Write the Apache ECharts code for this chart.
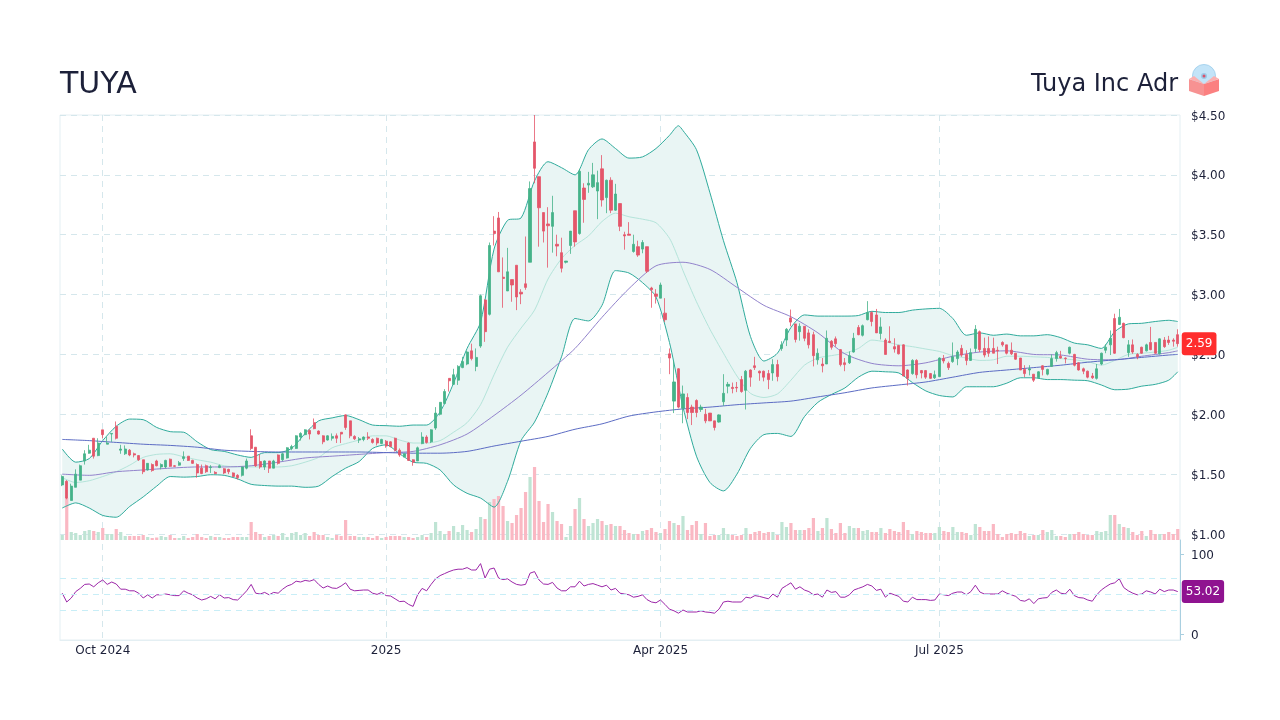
<!DOCTYPE html>
<html>
<head>
<meta charset="utf-8">
<title>TUYA</title>
<script src="https://cdn.jsdelivr.net/npm/echarts@6/dist/echarts.min.js"></script>
<style>
  html, body { margin: 0; padding: 0; background: #fff; }
  #chart { width: 1280px; height: 720px; }
</style>
</head>
<body>
<div id="chart"></div>
<script>
// values, one entry per trading day
const opens = [
  1.41,1.44,1.28,1.39,1.45,1.61,1.675,1.80,1.655,1.87,
  1.75,1.835,1.90,1.70,1.67,1.70,1.67,1.655,1.62,1.535,
  1.58,1.61,1.56,1.56,1.625,1.57,1.575,1.63,1.65,1.615,
  1.58,1.55,1.57,1.555,1.515,1.555,1.545,1.54,1.51,1.49,
  1.49,1.55,1.82,1.725,1.605,1.56,1.61,1.55,1.66,1.62,
  1.635,1.715,1.715,1.81,1.83,1.865,1.93,1.86,1.82,1.785,
  1.80,1.82,1.85,1.995,1.945,1.815,1.785,1.79,1.81,1.79,
  1.80,1.755,1.775,1.77,1.80,1.70,1.645,1.76,1.62,1.61,
  1.755,1.81,1.77,1.885,2.0,2.09,2.30,2.25,2.285,2.39,
  2.42,2.53,2.40,2.57,2.955,2.835,3.53,3.64,3.145,3.03,
  3.125,3.245,3.02,3.09,3.27,4.275,3.985,3.685,3.59,3.57,
  3.42,3.35,3.27,3.41,3.70,3.51,3.89,3.915,3.90,3.865,
  4.05,3.81,3.955,3.705,3.76,3.50,3.505,3.36,3.40,3.38,
  3.40,3.055,3.005,2.97,2.845,2.505,2.11,2.38,2.05,2.14,
  2.06,2.115,2.04,2.0,2.01,1.945,1.935,2.105,2.235,2.225,
  2.225,2.29,2.2,2.37,2.405,2.36,2.36,2.34,2.345,2.415,
  2.55,2.62,2.805,2.755,2.69,2.735,2.68,2.665,2.455,2.42,
  2.42,2.61,2.63,2.54,2.43,2.43,2.52,2.725,2.66,2.79,
  2.85,2.83,2.675,2.62,2.61,2.565,2.575,2.58,2.37,2.34,
  2.45,2.365,2.365,2.34,2.305,2.315,2.465,2.425,2.44,2.465,
  2.55,2.50,2.45,2.55,2.69,2.55,2.55,2.55,2.535,2.60,
  2.58,2.535,2.51,2.47,2.375,2.37,2.335,2.305,2.405,2.335,
  2.40,2.465,2.485,2.47,2.51,2.50,2.43,2.38,2.36,2.32,
  2.30,2.42,2.535,2.58,2.80,2.75,2.76,2.515,2.58,2.50,
  2.56,2.53,2.60,2.60,2.505,2.62,2.62,2.62,2.665
];
const closes = [
  1.48,1.30,1.40,1.50,1.57,1.67,1.70,1.65,1.76,1.83,
  1.76,1.84,1.80,1.71,1.71,1.66,1.66,1.62,1.52,1.59,
  1.53,1.57,1.58,1.615,1.565,1.565,1.595,1.645,1.615,1.59,
  1.51,1.505,1.52,1.56,1.505,1.57,1.51,1.52,1.48,1.47,
  1.56,1.61,1.715,1.57,1.56,1.61,1.55,1.61,1.59,1.67,
  1.72,1.73,1.82,1.84,1.87,1.835,1.88,1.835,1.77,1.82,
  1.815,1.80,1.835,1.89,1.82,1.795,1.795,1.81,1.80,1.765,
  1.76,1.79,1.735,1.73,1.70,1.66,1.67,1.615,1.60,1.72,
  1.81,1.765,1.87,2.01,2.10,2.19,2.28,2.33,2.40,2.44,
  2.52,2.465,2.475,2.99,2.69,3.41,3.51,3.19,3.135,3.19,
  3.08,2.98,3.005,3.06,3.885,4.055,3.725,3.53,3.575,3.685,
  3.405,3.22,3.28,3.53,3.44,4.03,3.795,3.93,4.0,3.935,
  3.79,3.955,3.705,3.84,3.57,3.49,3.495,3.42,3.33,3.435,
  3.195,3.04,2.985,3.08,2.79,2.47,2.27,2.06,2.17,2.015,
  2.015,2.015,2.06,1.945,1.945,1.89,1.995,2.175,2.25,2.215,
  2.22,2.19,2.36,2.31,2.39,2.345,2.31,2.29,2.415,2.315,
  2.58,2.71,2.77,2.625,2.735,2.635,2.58,2.49,2.51,2.405,
  2.635,2.56,2.59,2.415,2.415,2.49,2.635,2.665,2.74,2.85,
  2.775,2.68,2.73,2.50,2.60,2.545,2.505,2.32,2.30,2.45,
  2.33,2.345,2.31,2.30,2.33,2.47,2.445,2.39,2.48,2.52,
  2.495,2.45,2.515,2.71,2.54,2.495,2.51,2.51,2.53,2.58,
  2.51,2.505,2.46,2.37,2.34,2.38,2.285,2.355,2.375,2.375,
  2.465,2.515,2.47,2.465,2.56,2.41,2.37,2.36,2.31,2.305,
  2.38,2.51,2.56,2.635,2.51,2.81,2.64,2.58,2.52,2.48,
  2.51,2.58,2.54,2.51,2.63,2.565,2.60,2.61,2.59
];
const highs = [
  1.49,1.45,1.42,1.54,1.58,1.70,1.745,1.80,1.80,1.87,
  1.81,1.84,1.94,1.745,1.74,1.71,1.68,1.66,1.62,1.59,
  1.59,1.62,1.59,1.62,1.63,1.575,1.61,1.69,1.65,1.62,
  1.59,1.58,1.58,1.575,1.525,1.58,1.55,1.545,1.515,1.50,
  1.565,1.63,1.875,1.725,1.665,1.615,1.61,1.62,1.665,1.68,
  1.725,1.745,1.825,1.85,1.875,1.875,1.965,1.865,1.825,1.825,
  1.84,1.84,1.85,2.00,1.945,1.825,1.81,1.815,1.85,1.80,
  1.805,1.795,1.785,1.775,1.805,1.715,1.675,1.765,1.625,1.73,
  1.85,1.825,1.875,2.06,2.10,2.21,2.30,2.38,2.41,2.48,
  2.53,2.59,2.55,3.0,2.96,3.435,3.655,3.69,3.31,3.39,
  3.125,3.245,3.045,3.485,3.945,4.5,3.985,3.685,3.73,3.825,
  3.5,3.475,3.28,3.53,3.70,4.05,3.93,4.025,4.10,4.035,
  4.165,3.96,3.98,3.925,3.76,3.525,3.605,3.5,3.45,3.455,
  3.40,3.065,3.045,3.10,2.97,2.55,2.445,2.385,2.24,2.175,
  2.08,2.125,2.08,2.045,2.01,1.945,2.0,2.335,2.27,2.265,
  2.27,2.32,2.37,2.375,2.48,2.365,2.365,2.37,2.46,2.455,
  2.61,2.72,2.875,2.755,2.76,2.735,2.71,2.69,2.55,2.47,
  2.70,2.62,2.65,2.545,2.47,2.525,2.68,2.745,2.75,2.945,
  2.86,2.88,2.81,2.635,2.735,2.635,2.58,2.585,2.375,2.46,
  2.46,2.37,2.37,2.345,2.365,2.475,2.495,2.44,2.60,2.535,
  2.58,2.535,2.55,2.745,2.70,2.64,2.65,2.64,2.565,2.61,
  2.58,2.60,2.51,2.47,2.41,2.41,2.335,2.36,2.41,2.38,
  2.50,2.53,2.53,2.475,2.565,2.505,2.435,2.39,2.365,2.345,
  2.42,2.515,2.585,2.70,2.84,2.88,2.765,2.62,2.625,2.51,
  2.565,2.59,2.73,2.60,2.635,2.645,2.655,2.635,2.71
];
const lows = [
  1.40,1.29,1.28,1.39,1.45,1.58,1.67,1.63,1.65,1.80,
  1.75,1.77,1.79,1.67,1.66,1.65,1.64,1.61,1.50,1.53,
  1.52,1.565,1.54,1.55,1.56,1.56,1.57,1.61,1.61,1.585,
  1.47,1.50,1.51,1.51,1.50,1.55,1.50,1.50,1.475,1.455,
  1.48,1.54,1.70,1.56,1.545,1.535,1.51,1.55,1.58,1.61,
  1.63,1.70,1.71,1.78,1.825,1.79,1.875,1.83,1.75,1.78,
  1.78,1.76,1.76,1.87,1.80,1.785,1.76,1.775,1.785,1.755,
  1.74,1.75,1.72,1.725,1.69,1.645,1.64,1.61,1.57,1.61,
  1.75,1.755,1.76,1.87,1.99,2.085,2.19,2.245,2.245,2.385,
  2.41,2.45,2.36,2.555,2.605,2.825,3.41,3.19,2.89,3.03,
  2.94,2.87,2.92,3.04,3.27,3.93,3.40,3.435,3.225,3.35,
  3.32,3.185,3.26,3.34,3.40,3.50,3.60,3.85,3.89,3.63,
  3.735,3.68,3.68,3.70,3.53,3.375,3.495,3.35,3.315,3.345,
  3.18,2.89,2.925,2.97,2.77,2.335,2.01,2.05,1.925,1.96,
  1.91,1.975,2.02,1.925,1.945,1.865,1.93,2.07,2.175,2.175,
  2.185,2.18,2.04,2.23,2.37,2.28,2.275,2.21,2.28,2.275,
  2.53,2.57,2.735,2.60,2.615,2.61,2.55,2.40,2.415,2.35,
  2.42,2.54,2.565,2.40,2.36,2.42,2.515,2.66,2.65,2.785,
  2.735,2.68,2.625,2.50,2.595,2.515,2.50,2.32,2.24,2.33,
  2.30,2.30,2.295,2.295,2.295,2.31,2.425,2.37,2.43,2.41,
  2.48,2.41,2.445,2.52,2.52,2.475,2.48,2.51,2.42,2.565,
  2.50,2.495,2.455,2.37,2.31,2.325,2.27,2.30,2.325,2.325,
  2.395,2.44,2.465,2.425,2.50,2.40,2.365,2.335,2.30,2.295,
  2.29,2.41,2.51,2.495,2.505,2.745,2.635,2.48,2.505,2.46,
  2.505,2.525,2.535,2.505,2.50,2.555,2.58,2.565,2.565
];
const volumes = [
  5,42,8,7,5,9,10,9,8,12,
  6,6,11,8,4,4,4,4,5,3,
  2,2.5,4,3,5,2,2,4,2,3,
  6,3,2,4,3,3,2,2,3,3,
  3,3,18,8,6,3,4,5,4,7,
  3,7,8,5,7,4,8,5,5,3,
  2,5,4,20,4,4,3,3,3,2,
  4,2,3,4,4,4,3,3,2,3,
  5,3,7,18,9,6,9,14,8,15,
  10,8,11,23,21,38,41,44,34,19,
  17,25,32,48,63,73,39,18,36,28,
  19,16,3,14,31,42,21,14,17,21,
  19,15,16,14,14,10,7,6,6,9,
  10,12,8,7,11,19,17,15,24,10,
  15,19,6,17,4,5,5,12,6,5,
  4,5,12,6,8,9,7,8,8,5,
  18,13,17,10,10,10,12,22,9,12,
  22,11,7,17,7,14,12,12,9,10,
  8,8,12,7,11,9,8,18,10,6,
  9,8,7,7,7,13,9,8,13,8,
  8,7,5,16,13,9,9,16,6,3,
  6,7,6,9,7,4,5,5,10,8,
  10,4,4,3,6,6,8,6,5,5,
  9,8,9,25,25,16,13,12,8,5,
  9,4,10,6,6,6,8,6,11
];
const rsiValues = [
  51,40,45,53,57,62,62.5,59,64,67.5,
  62,65,62.5,56,56,54,54,51,45,49,
  45,49,49,50,49,48,48,54,51,49,
  45,42.5,44,47,44,49,45,45.5,43,42.5,
  48,54,62,51,50,52,49,52,51,56,
  60,62,66,65,67,66,68,62,57.5,60,
  57.5,57,60,64,56,54,54.5,55,55,51,
  49.5,52,48,47.5,44,40.5,41,37,34.5,49,
  57,54,62,69,73,75.5,78,80,81,81,
  83,80,80,88,70,81,82.5,70,68,69,
  65,62,61,62,76,78,67.5,62.5,62,64.5,
  57.5,54,54,59,59,66,60,62,63,61,
  59,61,55,57,51,50,49,46,47,49,
  43,40,39,42.5,37,31,29,26,30,27.5,
  27.5,27.5,29,27.5,27,26,31,40,41,40,
  40,40,46,45,48,47,45.5,44,50,46,
  57,60.5,64,56,59,55,53,49,50,46,
  55,52,53,46,46,49,55,57,59,62,
  60,54.5,56,46,51,49,47,41,40,46,
  43,43,43,42,42.5,50,49,48,51,52.5,
  52.5,49,53,61,52.5,50,50,50,50,54,
  51,49,47,42,41,44,38,44,45,45.5,
  52,55,51,50,56,48,45.5,45,42.5,41,
  49,55,59,62.5,64,69,58,54,51,49,
  50,54,52.5,50,56,53,55,55,53.02
];

// band and average lines, read every few days
const bandIdx = [
  0,3,6,9,12,15,18,21,24,27,
  30,33,36,39,42,45,48,51,54,57,
  60,63,66,69,72,75,78,81,84,87,
  90,93,96,99,102,105,108,111,114,117,
  120,123,126,129,132,135,137,138,141,144,147,
  150,153,156,159,162,165,168,171,174,177,
  180,183,186,189,192,195,198,201,204,207,
  210,213,216,219,222,225,228,231,234,237,
  240,243,246,248
];
const bandUpper = [
  1.71,1.60,1.63,1.78,1.90,1.96,1.955,1.89,1.855,1.85,
  1.77,1.705,1.69,1.66,1.64,1.68,1.68,1.715,1.84,1.945,
  1.97,1.99,1.955,1.91,1.905,1.90,1.91,1.91,2.02,2.26,
  2.55,2.77,3.38,3.62,3.64,3.95,4.11,4.06,4.0,4.21,
  4.30,4.22,4.14,4.15,4.22,4.33,4.41,4.37,4.21,3.85,3.45,
  3.10,2.65,2.445,2.51,2.725,2.83,2.82,2.82,2.82,2.825,
  2.86,2.85,2.85,2.87,2.88,2.885,2.80,2.66,2.68,2.66,
  2.67,2.655,2.655,2.665,2.64,2.595,2.58,2.55,2.69,2.755,
  2.76,2.775,2.785,2.775
];
const bandMiddle = [
  1.47,1.43,1.445,1.48,1.52,1.575,1.64,1.665,1.67,1.645,
  1.62,1.60,1.57,1.56,1.56,1.56,1.56,1.57,1.60,1.64,
  1.72,1.755,1.785,1.82,1.82,1.785,1.76,1.76,1.78,1.85,
  1.93,2.08,2.33,2.56,2.72,2.87,3.13,3.30,3.41,3.49,
  3.61,3.68,3.65,3.63,3.60,3.47,3.30,3.20,2.94,2.71,2.51,
  2.32,2.175,2.14,2.17,2.285,2.41,2.47,2.49,2.51,2.55,
  2.62,2.605,2.58,2.565,2.545,2.525,2.49,2.47,2.45,2.455,
  2.485,2.485,2.48,2.475,2.465,2.455,2.44,2.41,2.45,2.50,
  2.51,2.52,2.535,2.56
];
const bandLower = [
  1.217,1.26,1.217,1.155,1.14,1.23,1.31,1.40,1.48,1.475,
  1.48,1.495,1.49,1.46,1.415,1.405,1.40,1.40,1.39,1.40,
  1.48,1.55,1.605,1.715,1.745,1.67,1.60,1.59,1.535,1.41,
  1.34,1.30,1.225,1.44,1.78,1.935,2.18,2.48,2.80,2.78,
  2.91,3.20,3.18,3.10,2.98,2.60,2.24,2.06,1.65,1.43,1.36,
  1.50,1.715,1.83,1.84,1.815,1.98,2.10,2.165,2.22,2.31,
  2.36,2.355,2.345,2.265,2.195,2.157,2.145,2.23,2.23,2.23,
  2.26,2.305,2.305,2.29,2.29,2.285,2.28,2.245,2.205,2.21,
  2.235,2.25,2.285,2.355
];
const smaIdx = [
  0,6,12,18,24,30,36,42,48,54,60,66,72,78,84,90,96,102,108,114,
  120,126,132,138,144,150,156,162,168,174,180,186,192,198,204,210,
  216,222,228,234,240,246,248
];
const sma50 = [
  1.50,1.49,1.52,1.535,1.55,1.56,1.56,1.57,1.60,1.635,1.65,1.665,1.68,1.69,1.745,1.835,1.99,2.16,2.35,2.55,
  2.81,3.05,3.24,3.27,3.21,3.06,2.91,2.815,2.68,2.505,2.425,2.405,2.43,2.485,2.52,2.53,
  2.50,2.495,2.46,2.455,2.485,2.515,2.53
];
const sma200 = [
  1.79,1.78,1.765,1.75,1.74,1.725,1.70,1.69,1.685,1.685,1.685,1.685,1.68,1.675,1.675,1.69,1.735,1.775,1.815,1.875,
  1.92,1.985,2.02,2.045,2.06,2.08,2.095,2.11,2.145,2.18,2.22,2.245,2.27,2.31,2.35,2.37,
  2.39,2.41,2.435,2.455,2.475,2.495,2.50
];

const tickIdx = [9, 72, 133, 195];
const tickLabels = ['Oct 2024', '2025', 'Apr 2025', 'Jul 2025'];
const rsiLevels = [30, 50, 70];
const lastPrice = 2.59;
const lastRsi = 53.02;

const INK = '#1c2039';
const RED = '#e4566a';
const GREEN = '#45b389';
const FONT = '"DejaVu Sans", sans-serif';

const bars = opens.map((_, i) => i);
const candles = opens.map((o, i) => [o, closes[i], lows[i], highs[i]]);
const xLabels = bars.map(i => {
  const t = tickIdx.indexOf(i);
  return t < 0 ? '' : tickLabels[t];
});
const pairs = (idx, vals) => idx.map((x, k) => [x, vals[k]]);
const lastBar = bars.length - 1;

function lineSeries(name, idx, vals, color, width, z) {
  return {
    name, type: 'line', xAxisIndex: 0, yAxisIndex: 0, z,
    data: pairs(idx, vals),
    showSymbol: false, symbol: 'none', silent: true, smooth: 0.25,
    lineStyle: { color, width }
  };
}

function tag(xAxisIndex, yAxisIndex, value, color) {
  return {
    type: 'line', xAxisIndex, yAxisIndex, z: 10,
    data: [[lastBar, value]],
    symbol: 'circle', symbolSize: 0, showSymbol: true, silent: true,
    lineStyle: { opacity: 0 },
    label: {
      show: true, position: 'right', distance: 4,
      formatter: String(value),
      color: '#fff', fontFamily: FONT, fontSize: 12,
      backgroundColor: color, borderRadius: 3, padding: [6, 4, 5, 4]
    }
  };
}

// nudges the axis text down so it sits on its gridline
const axisRich = { a: { color: INK, fontSize: 12, fontFamily: FONT, padding: [3, 0, 0, 0] } };

const option = {
  animation: false,
  backgroundColor: '#fff',
  textStyle: { fontFamily: FONT },
  title: [
    { text: 'TUYA', left: 55, top: 65, textStyle: { color: INK, fontSize: 30, fontWeight: 'normal', fontFamily: FONT } },
    { text: 'Tuya Inc Adr', right: 97, top: 68, textStyle: { color: INK, fontSize: 24, fontWeight: 'normal', fontFamily: FONT } }
  ],
  grid: [
    { left: 60, top: 115, width: 1120, height: 419 },   // price
    { left: 60, top: 460, width: 1120, height: 80 },    // volume
    { left: 60, top: 540, width: 1120, height: 100 },   // rsi
    { left: 60, top: 115, width: 1120, height: 525, show: true, borderColor: '#e4eff3', borderWidth: 1, backgroundColor: 'transparent' }  // frame
  ],
  xAxis: [
    { type: 'category', gridIndex: 0, data: bars, show: false },
    { type: 'category', gridIndex: 1, data: bars, show: false },
    { type: 'category', gridIndex: 2, data: bars, show: false },
    {
      type: 'category', gridIndex: 3, data: xLabels,
      axisLine: { lineStyle: { color: '#e4eff3' } },
      axisTick: { show: false },
      axisLabel: { interval: 0, color: INK, fontSize: 12, margin: 5, hideOverlap: false },
      splitLine: {
        show: true, alignWithLabel: true,
        interval: i => tickIdx.includes(i),
        lineStyle: { color: '#d5e7ec', type: [6, 5], width: 1 }
      }
    }
  ],
  yAxis: [
    {
      type: 'value', gridIndex: 0, position: 'right', min: 1, max: 4.5, interval: 0.5,
      axisLine: { show: false }, axisTick: { show: false },
      axisLabel: { margin: 11, rich: axisRich, formatter: v => '{a|$' + v.toFixed(2) + '}' },
      splitLine: { lineStyle: { color: '#d5e7ec', type: [6, 5] } }
    },
    { type: 'value', gridIndex: 1, min: 0, max: 80, show: false },
    {
      type: 'value', gridIndex: 2, position: 'right', min: -7.5, max: 117.5,
      axisLine: { show: true, lineStyle: { color: '#a9cfe0' } },
      axisTick: { show: true, length: 4, customValues: [0, 100], lineStyle: { color: '#a9cfe0' } },
      axisLabel: { margin: 11, customValues: [0, 100], rich: axisRich, formatter: v => '{a|' + v + '}' },
      splitLine: { show: false }
    },
    { type: 'value', gridIndex: 3, show: false }
  ],
  series: [
    // band fill: lower edge with the width stacked on top
    {
      type: 'line', stack: 'band', z: 1, silent: true, symbol: 'none', smooth: 0.25,
      data: pairs(bandIdx, bandLower), lineStyle: { opacity: 0 }
    },
    {
      type: 'line', stack: 'band', z: 1, silent: true, symbol: 'none', smooth: 0.25,
      data: pairs(bandIdx, bandUpper.map((u, k) => u - bandLower[k])),
      lineStyle: { opacity: 0 }, areaStyle: { color: '#e9f5f4', opacity: 1 }
    },
    {
      type: 'bar', xAxisIndex: 1, yAxisIndex: 1, z: 2, barWidth: 3.2, silent: true,
      data: volumes.map((v, i) => ({
        value: v,
        itemStyle: { color: closes[i] >= opens[i] ? '#bfe4d4' : '#fab8c3' }
      }))
    },
    lineSeries('upper', bandIdx, bandUpper, '#2fab9c', 1, 3),
    lineSeries('lower', bandIdx, bandLower, '#2fab9c', 1, 3),
    lineSeries('middle', bandIdx, bandMiddle, '#b4e4da', 1, 3),
    lineSeries('sma50', smaIdx, sma50, '#9283cc', 1, 3),
    lineSeries('sma200', smaIdx, sma200, '#5c6cc4', 1, 3),
    {
      type: 'candlestick', z: 4, barWidth: 2.6, silent: true,
      data: candles,
      itemStyle: { color: GREEN, color0: RED, borderColor: GREEN, borderColor0: RED, borderWidth: 0.8 }
    },
    {
      type: 'line', xAxisIndex: 2, yAxisIndex: 2, z: 3, silent: true, symbol: 'none',
      data: rsiValues,
      lineStyle: { color: '#9c27a8', width: 1 },
      markLine: {
        silent: true, symbol: 'none', label: { show: false },
        lineStyle: { color: '#c8eef7', type: [6, 5], width: 1 },
        data: rsiLevels.map(v => ({ yAxis: v }))
      }
    },
    tag(0, 0, lastPrice, '#ff2d2d'),
    tag(2, 2, lastRsi, '#8f1390')
  ],
  graphic: [
    { type: 'circle', shape: { cx: 1204, cy: 76, r: 11.5 }, style: { fill: '#c3e4f8', stroke: '#a8d4ee' } },
    { type: 'circle', shape: { cx: 1204, cy: 76, r: 3 }, style: { fill: '#9cc8e6' } },
    { type: 'circle', shape: { cx: 1204, cy: 76, r: 1.5 }, style: { fill: '#d9536b' } },
    { type: 'polygon', shape: { points: [[1189, 79], [1204, 84], [1204, 96], [1189, 91]] }, style: { fill: '#f79292' } },
    { type: 'polygon', shape: { points: [[1204, 84], [1219, 79], [1219, 91], [1204, 96]] }, style: { fill: '#fb8080' } },
    { type: 'polygon', shape: { points: [[1189, 79], [1194, 76], [1204, 84]] }, style: { fill: '#fbb0b0' } },
    { type: 'polygon', shape: { points: [[1219, 79], [1214, 76], [1204, 84]] }, style: { fill: '#fbb0b0' } }
  ]
};

const chart = echarts.init(document.getElementById('chart'));
chart.setOption(option);
</script>
</body>
</html>
